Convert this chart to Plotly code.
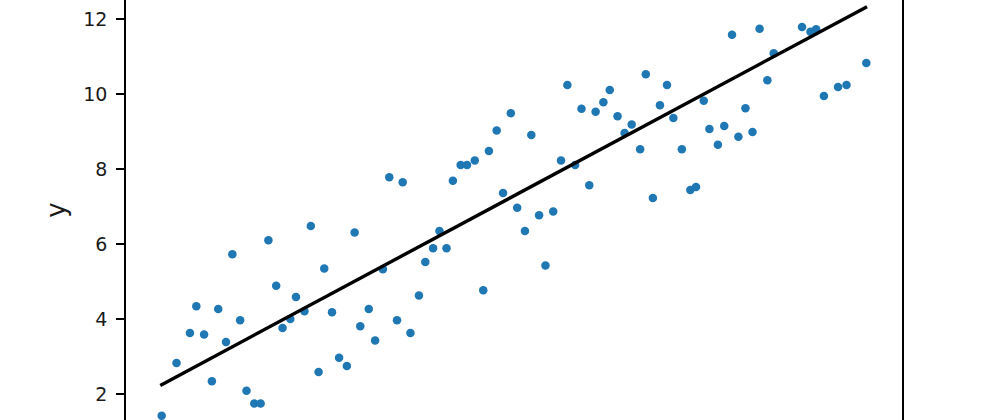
import plotly.graph_objects as go

# scatter data
x_pts = [0.02, 0.23, 0.42, 0.51, 0.62, 0.73, 0.82, 0.93, 1.02, 1.13,
         1.22, 1.33, 1.42, 1.53, 1.64, 1.73, 1.84, 1.92, 2.04, 2.13,
         2.24, 2.32, 2.43, 2.53, 2.64, 2.75, 2.83, 2.95, 3.04, 3.15,
         3.24, 3.35, 3.43, 3.54, 3.66, 3.75, 3.86, 3.95, 4.05, 4.14,
         4.25, 4.34, 4.45, 4.57, 4.65, 4.76, 4.85, 4.96, 5.05, 5.16,
         5.25, 5.36, 5.45, 5.56, 5.67, 5.76, 5.87, 5.96, 6.07, 6.16,
         6.27, 6.36, 6.47, 6.57, 6.67, 6.79, 6.87, 6.97, 7.07, 7.17,
         7.26, 7.38, 7.50, 7.58, 7.69, 7.77, 7.89, 7.98, 8.09, 8.18,
         8.28, 8.38, 8.48, 8.59, 8.68, 9.08, 9.20, 9.28, 9.39, 9.59,
         9.71, 9.99]
y_pts = [1.42, 2.83, 3.63, 4.34, 3.59, 2.34, 4.27, 3.39, 5.73, 3.97,
         2.09, 1.75, 1.75, 6.10, 4.89, 3.76, 4.00, 4.59, 4.21, 6.48,
         2.59, 5.35, 4.18, 2.97, 2.75, 6.31, 3.81, 4.27, 3.43, 5.33,
         7.78, 3.97, 7.65, 3.63, 4.63, 5.52, 5.89, 6.35, 5.89, 7.69,
         8.11, 8.11, 8.23, 4.77, 8.48, 9.03, 7.36, 9.49, 6.97, 6.35,
         8.91, 6.77, 5.43, 6.87, 8.23, 10.24, 8.11, 9.61, 7.57, 9.53,
         9.78, 10.11, 9.41, 8.96, 9.19, 8.53, 10.53, 7.23, 9.70, 10.24,
         9.36, 8.53, 7.44, 7.52, 9.82, 9.07, 8.65, 9.15, 11.58, 8.86,
         9.62, 8.99, 11.74, 10.37, 11.09, 11.79, 11.66, 11.73, 9.95, 10.19,
         10.24, 10.83]

# fitted line
line_x = [0, 10]
line_y = [2.23, 12.33]

y_ticks = [2, 4, 6, 8, 10, 12]

fig = go.Figure()
fig.add_trace(go.Scatter(x=x_pts, y=y_pts, mode="markers",
                         marker=dict(color="#1f77b4", size=8.5, line=dict(width=0)),
                         showlegend=False))
fig.add_trace(go.Scatter(x=line_x, y=line_y, mode="lines",
                         line=dict(color="black", width=3.4),
                         showlegend=False))

fig.update_layout(
    width=1000, height=420,
    margin=dict(l=126, r=98, t=0, b=0, pad=0, autoexpand=False),
    paper_bgcolor="white", plot_bgcolor="white",
    font=dict(family="DejaVu Sans", color="black"),
    xaxis=dict(range=[-0.485, 10.495], showgrid=False, zeroline=False,
               showticklabels=False, ticks="", showline=False, automargin=False),
    yaxis=dict(range=[1.307, 12.507], showgrid=False, zeroline=False,
               tickvals=y_ticks, ticks="outside", ticklen=8, tickwidth=1.5,
               tickcolor="black", tickfont=dict(size=19, color="#1a1a1a"),
               ticklabelstandoff=5,
               showline=True, linecolor="black", linewidth=1.6, mirror=True,
               automargin=False,
               title=dict(text="y", font=dict(size=26, color="#1a1a1a"), standoff=10)),
)

fig.write_html("out.html",
               config={"displayModeBar": False},
               post_script="document.body.style.margin='0';document.body.style.overflow='hidden';")
